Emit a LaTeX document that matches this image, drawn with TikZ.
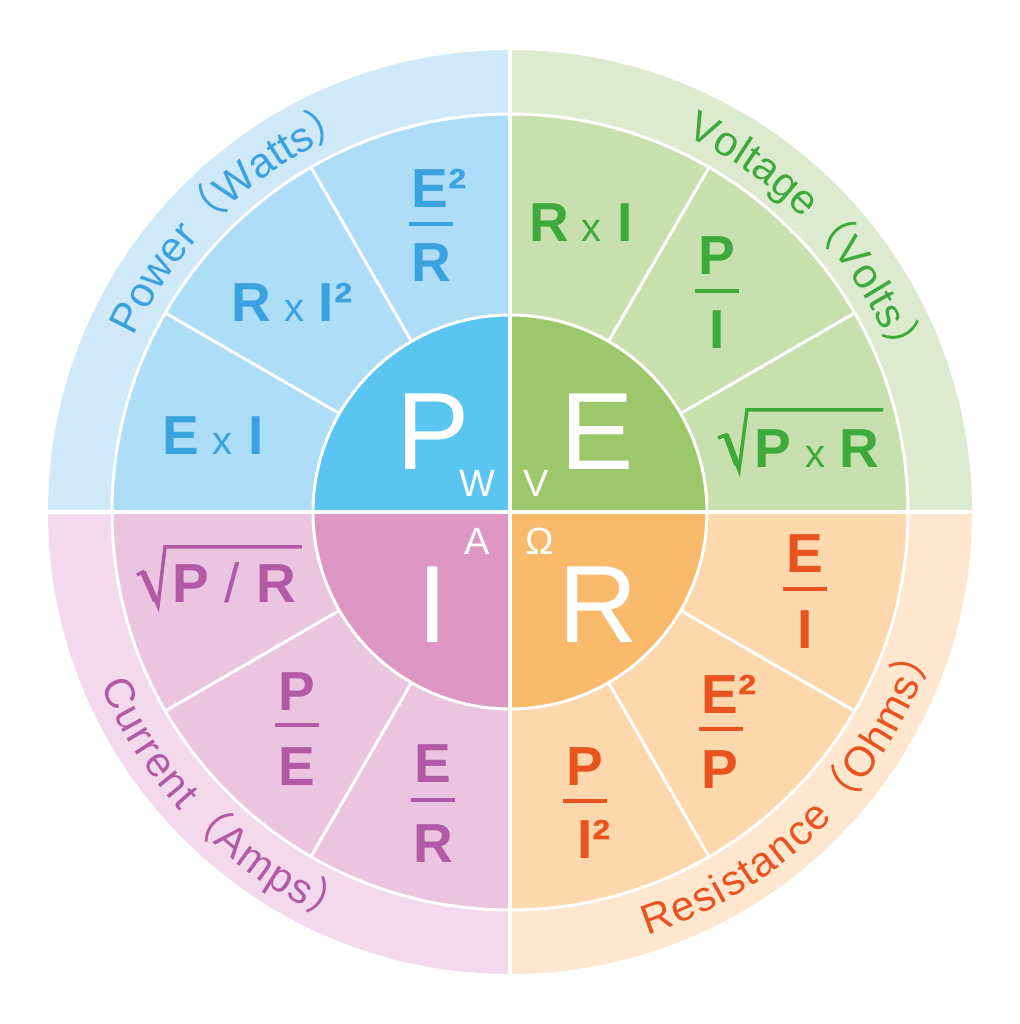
\documentclass[tikz,border=0pt]{standalone}
\usepackage{fontspec}
\setmainfont{Liberation Sans}
\newfontfamily\cjk{Noto Sans CJK SC}
\usetikzlibrary{decorations.text,calc}
\definecolor{pwO}{HTML}{CFE9F9}
\definecolor{pwM}{HTML}{ADDDF7}
\definecolor{pwI}{HTML}{5BC5F1}
\definecolor{pwT}{HTML}{3AA3DF}
\definecolor{vlO}{HTML}{DCEBD0}
\definecolor{vlM}{HTML}{C7E0AD}
\definecolor{vlI}{HTML}{9CC86B}
\definecolor{vlT}{HTML}{3DAA3A}
\definecolor{cuO}{HTML}{F2D9EC}
\definecolor{cuM}{HTML}{EBC4E0}
\definecolor{cuI}{HTML}{DE96C3}
\definecolor{cuT}{HTML}{B25AA6}
\definecolor{reO}{HTML}{FEE7CE}
\definecolor{reM}{HTML}{FDD8AC}
\definecolor{reI}{HTML}{F9BB6B}
\definecolor{reT}{HTML}{E8531F}
\newcommand\mx{{\fontsize{40}{40}\selectfont\mdseries x}}
\newcommand\sq{\rlap{²}}
\newcommand\lbl{\fontsize{42}{42}\selectfont}
\newcommand\lblc{\fontsize{42}{42}\selectfont\cjk}
\begin{document}
\begin{tikzpicture}[x=1pt,y=1pt,
 big/.style={font=\fontsize{110}{110}\selectfont, text=white, anchor=base, inner sep=0pt},
 unitlbl/.style={font=\fontsize{38}{38}\selectfont, text=white, anchor=base, inner sep=0pt},
 frm/.style={font=\fontsize{55}{55}\selectfont\bfseries, anchor=base, inner sep=0pt},
 fbar/.style={line width=4pt},
 rootsign/.style={line width=3.5pt, line join=miter},
 sepline/.style={white, line width=#1},
 lab/.style={decorate, decoration={text along path, text align={fit to path}, text color=#1}}
]
\useasboundingbox (-510,-512) rectangle (509,512);
\fill[white] (-510,-512) rectangle (509,512);
% outer ring
\fill[pwO] (0,0) -- (180:462) arc[start angle=180,end angle=90,radius=462] -- cycle;
\fill[vlO] (0,0) -- (90:462) arc[start angle=90,end angle=0,radius=462] -- cycle;
\fill[reO] (0,0) -- (0:462) arc[start angle=0,end angle=-90,radius=462] -- cycle;
\fill[cuO] (0,0) -- (270:462) arc[start angle=270,end angle=180,radius=462] -- cycle;
% middle ring
\fill[pwM] (0,0) -- (180:398) arc[start angle=180,end angle=90,radius=398] -- cycle;
\fill[vlM] (0,0) -- (90:398) arc[start angle=90,end angle=0,radius=398] -- cycle;
\fill[reM] (0,0) -- (0:398) arc[start angle=0,end angle=-90,radius=398] -- cycle;
\fill[cuM] (0,0) -- (270:398) arc[start angle=270,end angle=180,radius=398] -- cycle;
% inner disk
\fill[pwI] (0,0) -- (180:197) arc[start angle=180,end angle=90,radius=197] -- cycle;
\fill[vlI] (0,0) -- (90:197) arc[start angle=90,end angle=0,radius=197] -- cycle;
\fill[reI] (0,0) -- (0:197) arc[start angle=0,end angle=-90,radius=197] -- cycle;
\fill[cuI] (0,0) -- (270:197) arc[start angle=270,end angle=180,radius=197] -- cycle;
% white separators
\draw[sepline=3pt] (0,0) circle[radius=398];
\draw[sepline=3pt] (0,0) circle[radius=197];
\foreach \a in {30,60,120,150,210,240,300,330}
  \draw[sepline=3pt] (\a:197) -- (\a:398);
\draw[sepline=4pt] (-470,0) -- (470,0);
\draw[sepline=4pt] (0,-470) -- (0,470);

% ring labels
\path[lab=pwT, decoration={text={|\lbl|Power|\lblc|（|\lbl|Watts|\lblc|）}}]
  (155:415) arc[start angle=155,end angle=112,radius=415];
\path[lab=vlT, decoration={text={|\lbl|Voltage|\lblc|（|\lbl|Volts|\lblc|）}}]
  (65:415) arc[start angle=65,end angle=20,radius=415];
\path[lab=cuT, decoration={text={|\lbl|Current|\lblc|（|\lbl|Amps|\lblc|）}}]
  (203:445) arc[start angle=203,end angle=248,radius=445];
\path[lab=reT, decoration={text={|\lbl|Resistance|\lblc|（|\lbl|Ohms|\lblc|）}}]
  (288:445) arc[start angle=288,end angle=343,radius=445];

% centre letters
\node[big] (P) at (-77,42) {P};
\node[big] (E) at (87,42) {E};
\node[big] (I) at (-77,-130) {I};
\node[big] (R) at (88,-130) {R};
\node[unitlbl] (W) at (-33,15) {W};
\node[unitlbl] (V) at (26,15) {V};
\node[unitlbl] (A) at (-33,-43) {A};
\node[unitlbl] (Om) at (30,-43) {Ω};

% Power formulas
\node[frm, pwT] (pwa) at (-297,57) {E\hspace{13pt}\mx\hspace{16pt}I};
\node[frm, pwT] (pwb) at (-227,190) {R\hspace{13pt}\mx\hspace{14pt}I\sq};
\node[frm, pwT] (pwcn) at (-80,304) {E\sq};
\draw[fbar, pwT] (-101,288) -- (-57,288);
\node[frm, pwT] (pwcd) at (-79,230) {R};

% Voltage formulas
\node[frm, vlT] (vla) at (71,270) {R\hspace{12pt}\mx\hspace{16pt}I};
\node[frm, vlT] (vlbn) at (207,237) {P};
\draw[fbar, vlT] (185,221) -- (229,221);
\node[frm, vlT] (vlbd) at (207,163) {I};
\coordinate (vr1) at (208,74);
\coordinate (vr2) at (216,77);
\coordinate (vr3) at (229,42);
\coordinate (vr4) at (237,102);
\coordinate (vr5) at (373,102);
\draw[rootsign, vlT] (vr1) -- (vr2) -- (vr3) -- (vr4) -- (vr5);
\draw[line width=6pt, vlT] (vr2) -- ($(vr2)!0.85!(vr3)$);
\node[frm, vlT] (vlc) at (307,44) {P\hspace{14pt}\mx\hspace{14pt}R};

% Current formulas
\coordinate (cr1) at (-373,-63);
\coordinate (cr2) at (-367,-60);
\coordinate (cr3) at (-352,-94);
\coordinate (cr4) at (-345,-35);
\coordinate (cr5) at (-208,-35);
\draw[rootsign, cuT] (cr1) -- (cr2) -- (cr3) -- (cr4) -- (cr5);
\draw[line width=6pt, cuT] (cr2) -- ($(cr2)!0.85!(cr3)$);
\node[frm, cuT] (cua) at (-276,-91) {P\hspace{16pt}{\mdseries/}\hspace{16pt}R};
\node[frm, cuT] (cubn) at (-213,-198) {P};
\draw[fbar, cuT] (-235,-213) -- (-191,-213);
\node[frm, cuT] (cubd) at (-213,-273) {E};
\node[frm, cuT] (cucn) at (-77,-270) {E};
\draw[fbar, cuT] (-99,-288) -- (-55,-288);
\node[frm, cuT] (cucd) at (-77,-350) {R};

% Resistance formulas
\node[frm, reT] (rean) at (295,-61) {E};
\draw[fbar, reT] (273,-77) -- (317,-77);
\node[frm, reT] (read) at (295,-136) {I};
\node[frm, reT] (rebn) at (210,-201) {E\sq};
\draw[fbar, reT] (189,-217) -- (233,-217);
\node[frm, reT] (rebd) at (210,-276) {P};
\node[frm, reT] (recn) at (75,-273) {P};
\draw[fbar, reT] (53,-289) -- (97,-289);
\node[frm, reT] (recd) at (75,-346) {I\sq};
\end{tikzpicture}
\end{document}
